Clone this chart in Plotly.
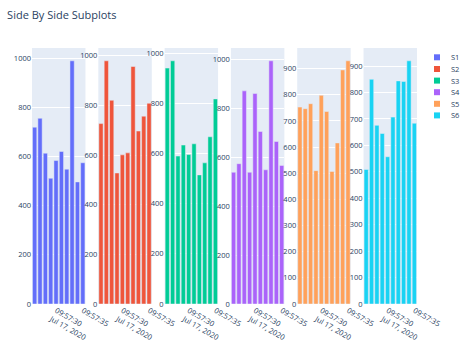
import plotly.graph_objects as go
from plotly.subplots import make_subplots
import pandas as pd

times = pd.date_range("2020-07-17 09:57:26", periods=10, freq="s")

series_names = ["S1", "S2", "S3", "S4", "S5", "S6"]
s1 = [720, 756, 614, 512, 584, 621, 549, 990, 497, 575]
s2 = [727, 980, 821, 528, 601, 609, 957, 697, 757, 809]
s3 = [941, 970, 590, 634, 596, 639, 515, 563, 667, 818]
s4 = [539, 574, 872, 539, 861, 706, 549, 995, 665, 567]
s5 = [753, 747, 766, 510, 798, 736, 507, 616, 895, 930]
s6 = [509, 850, 676, 645, 557, 707, 844, 842, 920, 684]
all_series = [s1, s2, s3, s4, s5, s6]
y_dticks = [200, 200, 200, 200, 100, 100]
colors = ["#636efa", "#EF553B", "#00cc96", "#ab63fa", "#FFA15A", "#19d3f3"]

W, H = 474, 349
ML, MR, MT, MB = 32, 57, 48, 45
PW, PH = W - ML - MR, H - MT - MB

fig = make_subplots(rows=1, cols=6)
for i, (name, vals) in enumerate(zip(series_names, all_series)):
    fig.add_trace(go.Bar(x=times, y=vals, name=name, marker_color=colors[i],
                         showlegend=False), row=1, col=i + 1)
    fig.update_xaxes(tickangle=30, tickfont=dict(size=7.5), automargin=False,
                     row=1, col=i + 1)
    fig.update_yaxes(dtick=y_dticks[i], tickfont=dict(size=7.5), automargin=False,
                     row=1, col=i + 1)

# compact legend (squares + labels) placed at the right of the plot area
leg_x0 = (434 - ML) / PW
leg_x1 = (440 - ML) / PW
leg_tx = (449 - ML) / PW
row_y = [57.3, 69.0, 80.6, 92.2, 103.8, 115.4]
for i, name in enumerate(series_names):
    yc = (MT + PH - row_y[i]) / PH
    fig.add_shape(type="rect", xref="paper", yref="paper",
                  x0=leg_x0, x1=leg_x1, y0=yc - 3 / PH, y1=yc + 3 / PH,
                  fillcolor=colors[i], line=dict(width=0))
    fig.add_annotation(xref="paper", yref="paper", x=leg_tx, y=yc,
                       text=name, showarrow=False, xanchor="left",
                       yanchor="middle", font=dict(size=7.5, color="#2a3f5f"))

fig.update_layout(
    width=W,
    height=H,
    margin=dict(l=ML, r=MR, t=MT, b=MB),
    title=dict(text="Side By Side Subplots", x=0.015, xanchor="left",
               y=0.957, yanchor="middle", font=dict(size=11)),
)

fig.write_html("out.html")
